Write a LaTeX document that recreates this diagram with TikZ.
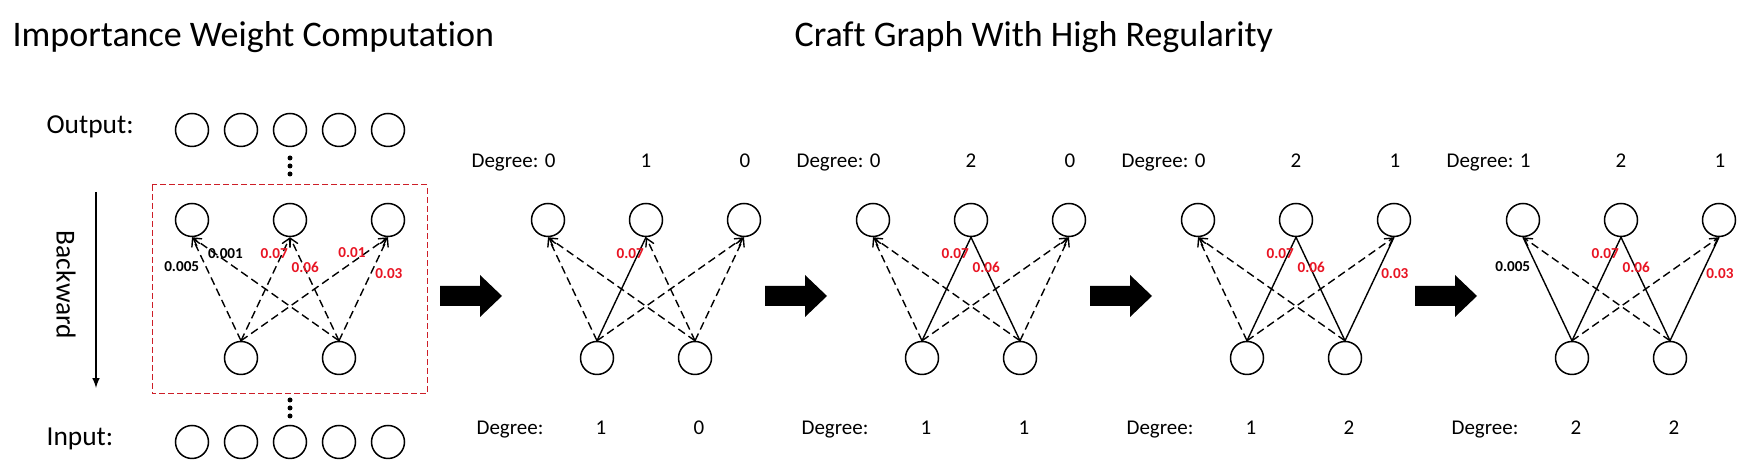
\documentclass[tikz,border=0pt]{standalone}
\usepackage{fontspec}
\setmainfont{Carlito}[Ligatures=NoCommon]
\usetikzlibrary{arrows,positioning}
\definecolor{wred}{RGB}{232,20,35}
\definecolor{boxred}{RGB}{205,30,40}

\begin{document}
\begin{tikzpicture}[x=0.5pt,y=-0.5pt,>=angle 60,node distance=49pt,semithick]
		\tikzstyle{neuron}=[circle,draw=black,line width=0.75pt,minimum size=16.5pt,inner sep=0pt]
		\tikzstyle{cand}=[->,line width=0.7pt,dash pattern=on 4pt off 2.2pt]
		\tikzstyle{kept}=[-,line width=0.7pt]
		\tikzstyle{wt}=[font=\bfseries\fontsize{7.6}{9}\selectfont,text=wred,inner sep=0pt]
		\tikzstyle{deg}=[font=\fontsize{10.5}{12}\selectfont,inner sep=0pt]
		\tikzstyle{side}=[font=\fontsize{13.7}{16}\selectfont,inner sep=0pt]
		\tikzstyle{title}=[font=\fontsize{18}{21}\selectfont,inner sep=0pt,anchor=base west]

		\useasboundingbox (0,0) rectangle (1752,474);

		\node[title] (T1) at (12,47) {Importance Weight Computation};
		\node[title] (T2) at (794,47) {Craft Graph With High Regularity};

		% importance weight computation
		\node[side,anchor=base west] (out) at (46,134) {Output:};
		\node[side,anchor=base west] (in) at (46,446) {Input:};

		\begin{scope}[node distance=24.5pt]
		\node[neuron] (O1) at (192,130) {};
		\node[neuron] (O2) [right of=O1] {};
		\node[neuron] (O3) [right of=O2] {};
		\node[neuron] (O4) [right of=O3] {};
		\node[neuron] (O5) [right of=O4] {};
		\node[neuron] (I1) at (192,442) {};
		\node[neuron] (I2) [right of=I1] {};
		\node[neuron] (I3) [right of=I2] {};
		\node[neuron] (I4) [right of=I3] {};
		\node[neuron] (I5) [right of=I4] {};
		\end{scope}

		\fill (290,158) circle (2.5) (290,166) circle (2.5) (290,174) circle (2.5);
		\fill (290,400) circle (2.5) (290,408) circle (2.5) (290,416) circle (2.5);

		\draw[boxred,line width=0.5pt,dash pattern=on 3pt off 1.5pt] (152,185) rectangle (427,394);

		\coordinate (bw1) at (96,192);
		\coordinate (bw2) at (96,388);
		\draw[->,>=latex,line width=0.7pt] (bw1) -- (bw2);
		\node[side,rotate=-90] (bw) at (66,285) {Backward};

		\node[neuron] (X11) at (192,220) {};
		\node[neuron] (X12) [right of=X11] {};
		\node[neuron] (X13) [right of=X12] {};
		\node[neuron] (Y11) at (241,358) {};
		\node[neuron] (Y12) [right of=Y11] {};

		\path (Y11.north) edge[cand] node[wt,text=black,pos=.72,xshift=-12pt] {0.005} (X11.south);
		\path (Y12.north) edge[cand] node[wt,text=black,pos=.82,xshift=3.5pt,yshift=1pt] {0.001} (X11.south);
		\path (Y11.north) edge[cand] node[wt,pos=.84,xshift=-4pt] {0.07} (X12.south);
		\path (Y12.north) edge[cand] node[wt,pos=.71,xshift=0.5pt] {0.06} (X12.south);
		\path (Y11.north) edge[cand] node[wt,pos=.85,xshift=-7pt] {0.01} (X13.south);
		\path (Y12.north) edge[cand] node[wt,pos=.65,xshift=9pt] {0.03} (X13.south);

		% step arrows
		\fill (440,286) -- ++(40,0) -- ++(0,-11) -- ++(22,21) -- ++(-22,21) -- ++(0,-11) -- ++(-40,0) -- cycle;
		\fill (765,286) -- ++(40,0) -- ++(0,-11) -- ++(22,21) -- ++(-22,21) -- ++(0,-11) -- ++(-40,0) -- cycle;
		\fill (1090,286) -- ++(40,0) -- ++(0,-11) -- ++(22,21) -- ++(-22,21) -- ++(0,-11) -- ++(-40,0) -- cycle;
		\fill (1415,286) -- ++(40,0) -- ++(0,-11) -- ++(22,21) -- ++(-22,21) -- ++(0,-11) -- ++(-40,0) -- cycle;

		% graph 1
		\node[neuron] (X21) at (548,220) {};
		\node[neuron] (X22) [right of=X21] {};
		\node[neuron] (X23) [right of=X22] {};
		\node[neuron] (Y21) at (597,358) {};
		\node[neuron] (Y22) [right of=Y21] {};

		\node[deg,anchor=base east] (D21) at (556,168) {Degree: 0};
		\node[deg,anchor=base] (D22) at (646,168) {1};
		\node[deg,anchor=base] (D23) at (745,168) {0};
		\node[deg,anchor=base east] (E20) at (544,435) {Degree:};
		\node[deg,anchor=base] (E21) at (601,435) {1};
		\node[deg,anchor=base] (E22) at (699,435) {0};

		\path (Y21.north) edge[cand] (X21.south);
		\path (Y22.north) edge[cand] (X21.south);
		\path (Y21.north) edge[kept] node[wt,pos=.84,xshift=-4pt] {0.07} (X22.south);
		\path (Y22.north) edge[cand] (X22.south);
		\path (Y21.north) edge[cand] (X23.south);
		\path (Y22.north) edge[cand] (X23.south);

		% graph 2
		\node[neuron] (X31) at (873,220) {};
		\node[neuron] (X32) [right of=X31] {};
		\node[neuron] (X33) [right of=X32] {};
		\node[neuron] (Y31) at (922,358) {};
		\node[neuron] (Y32) [right of=Y31] {};

		\node[deg,anchor=base east] (D31) at (881,168) {Degree: 0};
		\node[deg,anchor=base] (D32) at (971,168) {2};
		\node[deg,anchor=base] (D33) at (1070,168) {0};
		\node[deg,anchor=base east] (E30) at (869,435) {Degree:};
		\node[deg,anchor=base] (E31) at (926,435) {1};
		\node[deg,anchor=base] (E32) at (1024,435) {1};

		\path (Y31.north) edge[cand] (X31.south);
		\path (Y32.north) edge[cand] (X31.south);
		\path (Y31.north) edge[kept] node[wt,pos=.84,xshift=-4pt] {0.07} (X32.south);
		\path (Y32.north) edge[kept] node[wt,pos=.71,xshift=0.5pt] {0.06} (X32.south);
		\path (Y31.north) edge[cand] (X33.south);
		\path (Y32.north) edge[cand] (X33.south);

		% graph 3
		\node[neuron] (X41) at (1198,220) {};
		\node[neuron] (X42) [right of=X41] {};
		\node[neuron] (X43) [right of=X42] {};
		\node[neuron] (Y41) at (1247,358) {};
		\node[neuron] (Y42) [right of=Y41] {};

		\node[deg,anchor=base east] (D41) at (1206,168) {Degree: 0};
		\node[deg,anchor=base] (D42) at (1296,168) {2};
		\node[deg,anchor=base] (D43) at (1395,168) {1};
		\node[deg,anchor=base east] (E40) at (1194,435) {Degree:};
		\node[deg,anchor=base] (E41) at (1251,435) {1};
		\node[deg,anchor=base] (E42) at (1349,435) {2};

		\path (Y41.north) edge[cand] (X41.south);
		\path (Y42.north) edge[cand] (X41.south);
		\path (Y41.north) edge[kept] node[wt,pos=.84,xshift=-4pt] {0.07} (X42.south);
		\path (Y42.north) edge[kept] node[wt,pos=.71,xshift=0.5pt] {0.06} (X42.south);
		\path (Y41.north) edge[cand] (X43.south);
		\path (Y42.north) edge[kept] node[wt,pos=.65,xshift=9pt] {0.03} (X43.south);

		% graph 4
		\node[neuron] (X51) at (1523,220) {};
		\node[neuron] (X52) [right of=X51] {};
		\node[neuron] (X53) [right of=X52] {};
		\node[neuron] (Y51) at (1572,358) {};
		\node[neuron] (Y52) [right of=Y51] {};

		\node[deg,anchor=base east] (D51) at (1531,168) {Degree: 1};
		\node[deg,anchor=base] (D52) at (1621,168) {2};
		\node[deg,anchor=base] (D53) at (1720,168) {1};
		\node[deg,anchor=base east] (E50) at (1519,435) {Degree:};
		\node[deg,anchor=base] (E51) at (1576,435) {2};
		\node[deg,anchor=base] (E52) at (1674,435) {2};

		\path (Y51.north) edge[kept] node[wt,text=black,pos=.72,xshift=-12pt] {0.005} (X51.south);
		\path (Y52.north) edge[cand] (X51.south);
		\path (Y51.north) edge[kept] node[wt,pos=.84,xshift=-4pt] {0.07} (X52.south);
		\path (Y52.north) edge[kept] node[wt,pos=.71,xshift=0.5pt] {0.06} (X52.south);
		\path (Y51.north) edge[cand] (X53.south);
		\path (Y52.north) edge[kept] node[wt,pos=.65,xshift=9pt] {0.03} (X53.south);
	\end{tikzpicture}
\end{document}
